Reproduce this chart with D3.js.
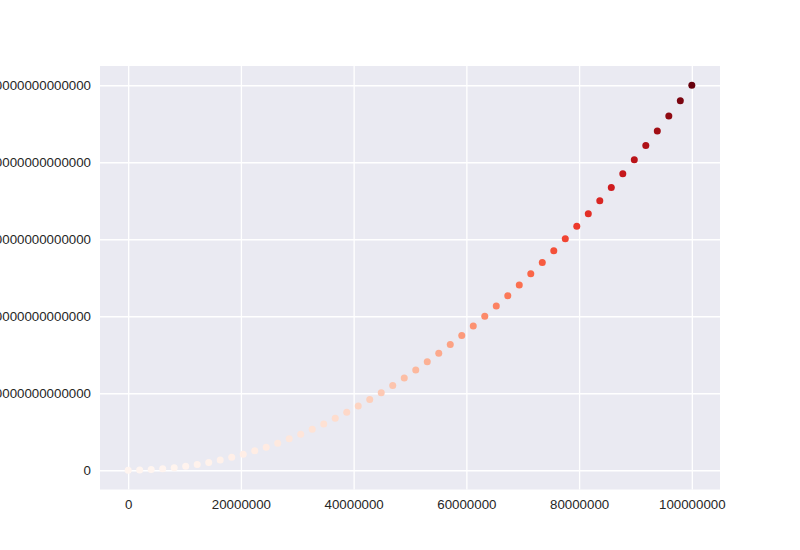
<!DOCTYPE html>
<html lang="en">
<head>
    <meta charset="UTF-8">
    <title>Scatter</title>
    <script src="https://d3js.org/d3.v7.min.js"></script>
    <style>
        body { margin: 0; background: #fff; }
        text { font-family: "Liberation Sans", Arial, sans-serif; }
    </style>
</head>
<body>
<div id="chart-container"></div>

<script>
    // x values of the 50 points
    const xValues = [
        0, 2040816, 4081633, 6122449, 8163265, 10204082, 12244898, 14285714, 16326531, 18367347,
        20408163, 22448980, 24489796, 26530612, 28571429, 30612245, 32653061, 34693878, 36734694, 38775510,
        40816327, 42857143, 44897959, 46938776, 48979592, 51020408, 53061224, 55102041, 57142857, 59183673,
        61224490, 63265306, 65306122, 67346939, 69387755, 71428571, 73469388, 75510204, 77551020, 79591837,
        81632653, 83673469, 85714286, 87755102, 89795918, 91836735, 93877551, 95918367, 97959184, 100000000
    ];

    // y values, in units of 1e14
    const Y_UNIT = 1e14;
    const yValues = [
        0, 0.042, 0.167, 0.375, 0.666, 1.041, 1.499, 2.041, 2.666, 3.374,
        4.165, 5.040, 5.998, 7.039, 8.163, 9.371, 10.662, 12.037, 13.494, 15.035,
        16.660, 18.367, 20.158, 22.033, 23.990, 26.031, 28.155, 30.362, 32.653, 35.027,
        37.484, 40.025, 42.649, 45.356, 48.147, 51.020, 53.978, 57.018, 60.142, 63.349,
        66.639, 70.012, 73.469, 77.010, 80.633, 84.340, 88.130, 92.003, 95.960, 100.000
    ];

    const xTicks = [0, 20000000, 40000000, 60000000, 80000000, 100000000];
    const yTicks = [0, 2e15, 4e15, 6e15, 8e15, 1e16];

    const data = xValues.map((x, i) => ({ x: x, y: yValues[i] * Y_UNIT }));

    // figure layout (matplotlib-like)
    const W = 800, H = 550;
    const margin = { top: 66, right: 80, bottom: 60.5, left: 100 };
    const width = W - margin.left - margin.right;
    const height = H - margin.top - margin.bottom;

    const svg = d3.select("#chart-container")
        .append("svg")
        .attr("width", W)
        .attr("height", H);

    const g = svg.append("g")
        .attr("transform", `translate(${margin.left},${margin.top})`);

    // scales with 5% padding like matplotlib
    const xMax = d3.max(data, d => d.x), yMax = d3.max(data, d => d.y);
    const xScale = d3.scaleLinear()
        .domain([-0.05 * xMax, 1.05 * xMax])
        .range([0, width]);
    const yScale = d3.scaleLinear()
        .domain([-0.05 * yMax, 1.05 * yMax])
        .range([height, 0]);

    const reds = d3.schemeReds[9];
    const colorScale = d3.scaleLinear()
        .domain(reds.map((c, i) => i / (reds.length - 1) * yMax))
        .range(reds);

    // background
    g.append("rect")
        .attr("width", width)
        .attr("height", height)
        .attr("fill", "#eaeaf2");

    const fmt = d3.format("d");

    // x axis
    const xAxis = g.append("g")
        .attr("transform", `translate(0,${height})`)
        .call(d3.axisBottom(xScale).tickValues(xTicks).tickFormat(fmt).tickSize(-height).tickPadding(10));
    xAxis.select(".domain").remove();

    // y axis
    const yAxis = g.append("g")
        .call(d3.axisLeft(yScale).tickValues(yTicks).tickFormat(fmt).tickSize(-width).tickPadding(9));
    yAxis.select(".domain").remove();

    g.selectAll(".tick line")
        .attr("stroke", "#ffffff")
        .attr("stroke-width", 1.3);
    g.selectAll(".tick text")
        .attr("fill", "#262626")
        .style("font-size", "13.3px")
        .style("font-family", "'Liberation Sans', Arial, sans-serif");

    // points
    g.selectAll(".dot")
        .data(data)
        .enter()
        .append("circle")
        .attr("class", "dot")
        .attr("cx", d => xScale(d.x))
        .attr("cy", d => yScale(d.y))
        .attr("r", 3.5)
        .attr("fill", d => colorScale(d.y));
</script>
</body>
</html>
